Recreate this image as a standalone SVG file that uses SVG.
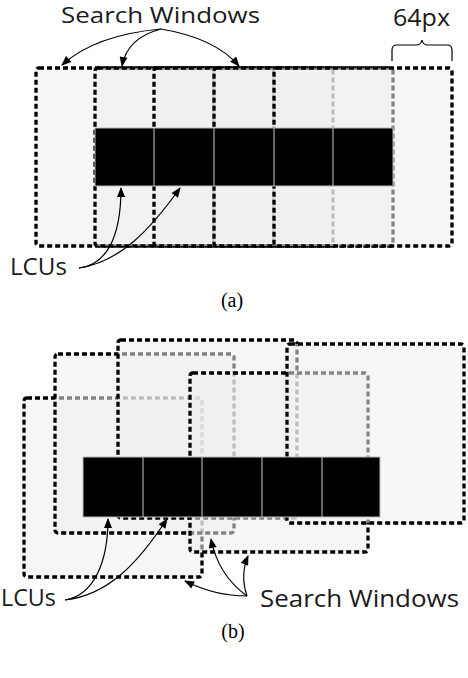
<svg xmlns="http://www.w3.org/2000/svg" width="468" height="678" viewBox="0 0 468 678">
<style>
.win{fill:rgb(238,238,238);fill-opacity:.55;stroke:#000;stroke-width:3.3;stroke-dasharray:5 3}
.bar{fill:#000;stroke:#bbb;stroke-width:1}
.div{stroke:#c8c8c8;stroke-width:1}
.lbl{font-family:"Open Sans","Noto Sans",sans-serif;font-size:23px;fill:#1a1a1a}
.cap{font-family:"Liberation Serif",serif;font-size:20px;fill:#000}
.con{fill:none;stroke:#000;stroke-width:1.2}
</style>
<defs>
<marker id="ah" viewBox="0 0 10 8" refX="9" refY="4" markerWidth="11" markerHeight="8" markerUnits="userSpaceOnUse" orient="auto">
<path d="M0,0 L10,4 L0,8 Z" fill="#000"/>
</marker>
</defs>
<rect width="468" height="678" fill="#fff"/>
<g id="a-windows">
<rect id="a-w1" class="win" x="36" y="68" width="178" height="178" rx="3"/>
<rect id="a-w2" class="win" x="95" y="68" width="179" height="178" rx="3"/>
<rect id="a-w3" class="win" x="154" y="68" width="179" height="178" rx="3"/>
<rect id="a-w4" class="win" x="214" y="68" width="179" height="178" rx="3"/>
<rect id="a-w5" class="win" x="274" y="68" width="178" height="178" rx="3"/>
</g>
<g id="a-lcus">
<rect class="bar" x="95" y="128" width="298" height="58"/>
<line class="div" x1="154" y1="128" x2="154" y2="186"/>
<line class="div" x1="214" y1="128" x2="214" y2="186"/>
<line class="div" x1="274" y1="128" x2="274" y2="186"/>
<line class="div" x1="333" y1="128" x2="333" y2="186"/>
</g>
<g id="a-brace">
<path class="con" d="M392,61 L392,50 Q392,45 397,45 L416,45 Q421,45 422,40 Q423,45 428,45 L447,45 Q452,45 452,50 L452,61"/>
</g>
<g id="a-labels">
<text class="lbl" x="61" y="23" style="font-size:21.5px" textLength="199" lengthAdjust="spacingAndGlyphs">Search Windows</text>
<text class="lbl" x="393" y="26" textLength="57" lengthAdjust="spacingAndGlyphs">64px</text>
<text class="lbl" x="10" y="275" textLength="57" lengthAdjust="spacingAndGlyphs">LCUs</text>
<text class="cap" x="232" y="307" text-anchor="middle">(a)</text>
</g>
<g id="b-windows">
<rect id="b-w1" class="win" x="24" y="398" width="178" height="179" rx="3"/>
<rect id="b-w2" class="win" x="55" y="354" width="179" height="179" rx="3"/>
<rect id="b-w3" class="win" x="118" y="340" width="179" height="178" rx="3"/>
<rect id="b-w4" class="win" x="190" y="373" width="178" height="179" rx="3"/>
<rect id="b-w5" class="win" x="287" y="344" width="177" height="179" rx="3"/>
</g>
<g id="b-lcus">
<rect class="bar" x="83" y="457" width="297" height="60"/>
<line class="div" x1="143" y1="457" x2="143" y2="517"/>
<line class="div" x1="202" y1="457" x2="202" y2="517"/>
<line class="div" x1="262" y1="457" x2="262" y2="517"/>
<line class="div" x1="322" y1="457" x2="322" y2="517"/>
</g>
<g id="b-labels">
<text class="lbl" x="1" y="606" textLength="55" lengthAdjust="spacingAndGlyphs">LCUs</text>
<text class="lbl" x="260" y="607" textLength="199" lengthAdjust="spacingAndGlyphs">Search Windows</text>
<text class="cap" x="233" y="638" text-anchor="middle">(b)</text>
</g>
<g id="connectors">
<path class="con" marker-end="url(#ah)" d="M161,29 Q95,35 62,65"/>
<path class="con" marker-end="url(#ah)" d="M161,29 Q127,38 122,66"/>
<path class="con" marker-end="url(#ah)" d="M161,29 Q215,38 239,66"/>
<path class="con" marker-end="url(#ah)" d="M79,268 C105,265 121,240 121,188"/>
<path class="con" marker-end="url(#ah)" d="M79,268 C120,262 150,230 180,188"/>
<path class="con" marker-end="url(#ah)" d="M65,600 C95,595 108,560 108,519"/>
<path class="con" marker-end="url(#ah)" d="M65,600 C110,595 140,560 167,519"/>
<path class="con" marker-end="url(#ah)" d="M247,596 Q215,596 185,581"/>
<path class="con" marker-end="url(#ah)" d="M247,596 Q218,575 211,539"/>
<path class="con" marker-end="url(#ah)" d="M247,596 Q240,575 248,556"/>
</g>
</svg>
